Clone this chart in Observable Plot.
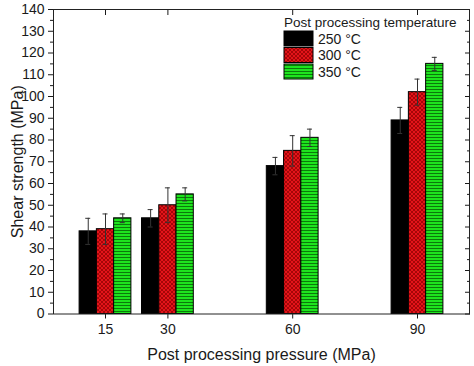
<!DOCTYPE html>
<html>
<head>
<meta charset="utf-8">
<script src="https://cdn.jsdelivr.net/npm/d3@7"></script>
<script src="https://cdn.jsdelivr.net/npm/@observablehq/plot@0.6"></script>
<style>
  body { margin: 0; background: white; }
  #chart { width: 474px; height: 366px; }
</style>
</head>
<body>
<div id="chart"></div>
<script>
const pressures = [15, 30, 60, 90];
const temps = ["250 °C", "300 °C", "350 °C"];
const strength250 = [38, 44, 68, 89];
const strength300 = [39, 50, 75, 102];
const strength350 = [44, 55, 81, 115];
const err250 = [6, 4, 4, 6];
const err300 = [7, 8, 7, 6];
const err350 = [2, 3, 4, 3];
const yTicks = [0, 10, 20, 30, 40, 50, 60, 70, 80, 90, 100, 110, 120, 130, 140];
const legendTitle = "Post processing temperature";
const xLabel = "Post processing pressure (MPa)";
const yLabel = "Shear strength (MPa)";

const fills = ["#000000", "url(#hatchRed)", "url(#hatchGreen)"];
const barW = 4.15;
const series = [strength250, strength300, strength350];
const errs = [err250, err300, err350];
const rows = [];
series.forEach((vals, s) => vals.forEach((v, i) => rows.push({
  p: pressures[i], s, temp: temps[s], v, e: errs[s][i],
  cx: pressures[i] + (s - 1) * barW
})));

const barMarks = temps.map((t, s) => Plot.rectY(rows.filter(d => d.s === s), {
  x1: d => d.cx - barW / 2, x2: d => d.cx + barW / 2, y1: 0, y2: "v",
  fill: fills[s], stroke: "#000", strokeWidth: 1
}));

const plot = Plot.plot({
  width: 474, height: 366,
  marginLeft: 53, marginRight: 5, marginTop: 9, marginBottom: 52.5,
  style: { fontFamily: "'Liberation Sans', Arial, sans-serif", fontSize: "14px", color: "#1a1a1a", background: "white" },
  x: { domain: [2.5, 102.5] },
  y: { domain: [0, 140] },
  marks: [
    ...barMarks,
    Plot.ruleX(rows, { x: "cx", y1: d => d.v - d.e, y2: d => d.v + d.e, stroke: "#333", strokeWidth: 1 }),
    Plot.ruleY(rows, { y: d => d.v + d.e, x1: d => d.cx - 0.6, x2: d => d.cx + 0.6, stroke: "#333", strokeWidth: 1 }),
    Plot.ruleY(rows, { y: d => d.v - d.e, x1: d => d.cx - 0.6, x2: d => d.cx + 0.6, stroke: "#333", strokeWidth: 1 }),
    Plot.axisY({ ticks: yTicks, tickSize: 5, tickPadding: 4, fontSize: 14, label: yLabel, labelAnchor: "center", labelOffset: 42, labelArrow: "none" }),
    Plot.axisY({ ticks: yTicks.slice(0, -1).map(t => t + 5), tickSize: 3, tickFormat: () => "", label: null }),
    Plot.axisY({ anchor: "right", ticks: yTicks, tickSize: -5, tickFormat: () => "", label: null }),
    Plot.axisY({ anchor: "right", ticks: yTicks.slice(0, -1).map(t => t + 5), tickSize: -3, tickFormat: () => "", label: null }),
    Plot.axisX({ ticks: pressures, tickSize: 5, tickPadding: 5, fontSize: 14, label: xLabel, labelAnchor: "center", labelOffset: 46, labelArrow: "none" }),
    Plot.axisX({ anchor: "top", ticks: pressures, tickSize: -5, tickFormat: () => "", label: null }),
    Plot.frame({ stroke: "#222", strokeWidth: 1 })
  ]
});

const svg = d3.select(plot);
svg.selectAll("g[aria-label='y-axis label'] text, g[aria-label='x-axis label'] text")
  .style("font-size", "16px")
  .each(function () { this.textContent = this.textContent.replace(/\s*[↑→←↓]\s*/g, "").trim(); });
const defs = svg.insert("defs", ":first-child");
const pr = defs.append("pattern").attr("id", "hatchRed").attr("patternUnits", "userSpaceOnUse").attr("width", 4).attr("height", 4);
pr.append("rect").attr("width", 4).attr("height", 4).attr("fill", "#e4141a");
pr.append("path").attr("d", "M0,0L4,4M4,0L0,4").attr("stroke", "#8a0000").attr("stroke-width", 0.7);
const pg = defs.append("pattern").attr("id", "hatchGreen").attr("patternUnits", "userSpaceOnUse").attr("width", 4).attr("height", 3);
pg.append("rect").attr("width", 4).attr("height", 3).attr("fill", "#1ee41e");
pg.append("path").attr("d", "M0,2.5L4,2.5").attr("stroke", "#0b7a0b").attr("stroke-width", 1);

// legend
const lg = svg.append("g").attr("font-family", "'Liberation Sans', Arial, sans-serif")
  .attr("fill", "#1a1a1a").attr("text-anchor", "start");
lg.append("text").attr("x", 284).attr("y", 27).attr("font-size", 13.5).text(legendTitle);
temps.forEach((t, s) => {
  const y0 = 31 + s * 16.5;
  lg.append("rect").attr("x", 284).attr("y", y0).attr("width", 29).attr("height", 15)
    .attr("fill", fills[s]).attr("stroke", "#000").attr("stroke-width", 1);
  lg.append("text").attr("x", 318).attr("y", y0 + 12.5).attr("font-size", 14).text(t);
});

document.getElementById("chart").appendChild(plot);
</script>
</body>
</html>
